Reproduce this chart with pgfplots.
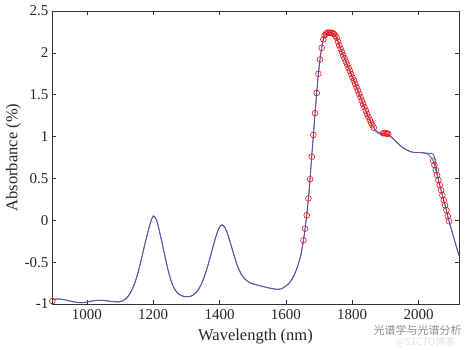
\documentclass[border=0pt]{standalone}
\usepackage{fontspec}
\setmainfont{Liberation Serif}
\newfontfamily\cjk{Noto Sans CJK SC}
\usepackage{pgfplots}
\pgfplotsset{compat=1.18}
\usepackage{pgfplotstable}
\definecolor{mblue}{rgb}{0.15,0.45,0.80}
\definecolor{mpurp}{rgb}{0.42,0.30,0.60}
\definecolor{mred}{rgb}{1,0.05,0.05}

\pgfplotstableread{
x y yb
896 -0.955 -0.95
905 -0.94 -0.945
915 -0.94 -0.94
925 -0.945 -0.945
935 -0.95 -0.95
945 -0.96 -0.96
955 -0.97 -0.97
965 -0.978 -0.978
975 -0.983 -0.983
985 -0.984 -0.984
995 -0.98 -0.98
1005 -0.973 -0.973
1015 -0.965 -0.965
1025 -0.958 -0.958
1035 -0.955 -0.955
1045 -0.956 -0.956
1055 -0.96 -0.96
1065 -0.965 -0.965
1075 -0.97 -0.97
1085 -0.974 -0.974
1095 -0.975 -0.975
1105 -0.968 -0.968
1115 -0.945 -0.945
1125 -0.905 -0.905
1135 -0.84 -0.84
1145 -0.745 -0.745
1155 -0.615 -0.615
1165 -0.455 -0.455
1175 -0.285 -0.285
1185 -0.125 -0.125
1192 -0.025 -0.025
1197 0.03 0.03
1201 0.052 0.052
1205 0.04 0.04
1210 0.0 0.0
1215 -0.065 -0.065
1225 -0.235 -0.235
1235 -0.42 -0.42
1245 -0.595 -0.595
1255 -0.735 -0.735
1265 -0.825 -0.825
1275 -0.875 -0.875
1285 -0.9 -0.9
1295 -0.912 -0.912
1305 -0.914 -0.914
1315 -0.905 -0.905
1325 -0.88 -0.88
1335 -0.835 -0.835
1345 -0.765 -0.765
1355 -0.665 -0.665
1365 -0.54 -0.54
1375 -0.395 -0.395
1385 -0.25 -0.25
1395 -0.125 -0.125
1402 -0.07 -0.07
1407 -0.055 -0.055
1412 -0.065 -0.065
1418 -0.1 -0.1
1425 -0.17 -0.17
1435 -0.3 -0.3
1445 -0.435 -0.435
1455 -0.555 -0.555
1465 -0.64 -0.64
1475 -0.695 -0.695
1485 -0.73 -0.73
1495 -0.752 -0.752
1505 -0.765 -0.765
1515 -0.775 -0.775
1525 -0.785 -0.785
1535 -0.795 -0.795
1545 -0.805 -0.805
1555 -0.813 -0.813
1565 -0.82 -0.82
1575 -0.825 -0.825
1585 -0.82 -0.82
1595 -0.8 -0.8
1605 -0.77 -0.77
1615 -0.725 -0.725
1625 -0.655 -0.655
1635 -0.555 -0.555
1645 -0.42 -0.42
1653 -0.24 -0.24
1658 -0.10 -0.10
1663 0.06 0.06
1668 0.26 0.26
1673 0.49 0.49
1678 0.76 0.76
1683 1.02 1.02
1688 1.28 1.28
1693 1.52 1.52
1698 1.75 1.75
1703 1.92 1.92
1708 2.06 2.06
1713 2.16 2.16
1717 2.21 2.21
1721 2.23 2.23
1729 2.24 2.24
1737 2.24 2.24
1745 2.225 2.225
1753 2.18 2.18
1761 2.09 2.09
1769 2.01 2.01
1777 1.935 1.935
1785 1.86 1.86
1793 1.785 1.785
1801 1.705 1.705
1809 1.63 1.63
1817 1.55 1.55
1825 1.47 1.47
1833 1.39 1.39
1841 1.31 1.31
1849 1.235 1.235
1857 1.165 1.165
1865 1.105 1.105
1872 1.07 1.06
1880 1.05 1.035
1890 1.04 1.025
1900 1.035 1.025
1910 1.02 1.015
1920 0.99 0.985
1930 0.95 0.95
1940 0.91 0.91
1950 0.875 0.875
1960 0.85 0.85
1970 0.83 0.83
1980 0.815 0.815
1990 0.81 0.81
2000 0.81 0.81
2010 0.805 0.81
2020 0.80 0.805
2030 0.785 0.80
2038 0.75 0.80
2044 0.71 0.79
2048 0.66 0.75
2052 0.60 0.66
2056 0.54 0.56
2060 0.48 0.48
2064 0.42 0.42
2068 0.36 0.36
2072 0.30 0.30
2076 0.24 0.24
2080 0.18 0.18
2084 0.12 0.12
2088 0.05 0.05
2092 -0.01 -0.01
2100 -0.12 -0.12
2110 -0.26 -0.26
2122 -0.42 -0.42
}\spec

\pgfplotstableread{
x y
896 -0.965
1653 -0.24
1658 -0.10
1663 0.06
1668 0.26
1673 0.49
1678 0.76
1683 1.02
1688 1.28
1693 1.52
1698 1.75
1703 1.92
1708 2.06
1713 2.16
1717 2.21
1721 2.23
1725 2.24
1729 2.24
1733 2.24
1737 2.24
1741 2.235
1745 2.225
1749 2.205
1753 2.18
1757 2.135
1761 2.09
1765 2.05
1769 2.01
1773 1.97
1777 1.935
1781 1.895
1785 1.86
1789 1.82
1793 1.785
1797 1.745
1801 1.705
1805 1.67
1809 1.63
1813 1.59
1817 1.55
1821 1.51
1825 1.47
1829 1.43
1833 1.39
1837 1.35
1841 1.31
1845 1.27
1849 1.235
1853 1.20
1857 1.165
1861 1.135
1865 1.105
1893 1.04
1897 1.04
1901 1.04
1905 1.035
1909 1.03
2044 0.71
2048 0.66
2052 0.60
2056 0.54
2060 0.48
2064 0.42
2068 0.36
2072 0.30
2076 0.24
2080 0.18
2084 0.12
2088 0.05
2092 -0.01
}\sel

\begin{document}
\begin{tikzpicture}
\path[use as bounding box] (-52pt,-46pt) rectangle (422pt,304pt);
\begin{axis}[
  at={(0pt,0pt)}, anchor=south west,
  scale only axis, width=407pt, height=293pt,
  xmin=895, xmax=2122, ymin=-1, ymax=2.5,
  xtick={1000,1200,1400,1600,1800,2000},
  ytick={-1,-0.5,0,0.5,1,1.5,2,2.5},
  yticklabels={-1,-0.5,0,0.5,1,1.5,2,2.5},
  /pgf/number format/1000 sep={},
  tick align=inside, major tick length=4pt,
  every tick/.style={black!80, line width=0.5pt},
  axis line style={black!80, line width=0.5pt},
  /pgf/number format/assume math mode=true,
  ticklabel style={font=\fontsize{15}{17}\selectfont, text=black!85},
  xticklabel style={yshift=-2pt},
  label style={font=\fontsize{16.5}{19}\selectfont, text=black!85},
  xlabel={Wavelength (nm)}, ylabel={Absorbance (\%)},
  xlabel style={yshift=-3pt},
  ylabel style={yshift=-3pt},
  clip=true,
]
\addplot[mblue, line width=0.9pt, smooth, tension=0.4] table[x=x, y=yb] {\spec};
\addplot[mpurp, line width=0.8pt, smooth, tension=0.4] table[x=x, y=y] {\spec};
\addplot[only marks, mark=o, mark size=2.9pt, mred, mark options={line width=0.6pt}] table[x=x, y=y] {\sel};
\end{axis}
\node[anchor=west, text=black!45, font=\cjk\fontsize{11}{12}\selectfont] at (318pt,-26pt) {光谱学与光谱分析};
\node[anchor=west, text=black!12, font=\cjk\fontsize{10}{11}\selectfont] at (340pt,-38pt) {@51CTO博客};
\end{tikzpicture}
\end{document}
